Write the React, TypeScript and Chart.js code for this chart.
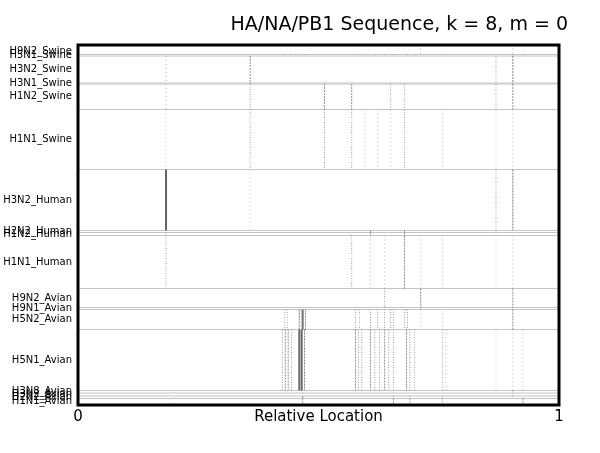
import React, { useEffect, useRef } from "react";
import { Chart, registerables } from "chart.js";

Chart.register(...registerables);

const TITLE = "HA/NA/PB1 Sequence, k = 8, m = 0";
const X_TITLE = "Relative Location";
const X_TICKS = [0, 1];
const Y_MIN = -7;

// sequence groups (top to bottom) and the number of sequences in each
const groupNames = [
  "H9N2_Swine", "H5N1_Swine", "H3N2_Swine", "H3N1_Swine", "H1N2_Swine", "H1N1_Swine",
  "H3N2_Human", "H2N2_Human", "H1N2_Human", "H1N1_Human",
  "H9N2_Avian", "H9N1_Avian", "H5N2_Avian", "H5N1_Avian",
  "H3N8_Avian", "H3N2_Avian", "H2N2_Avian", "H1N1_Avian",
];
const groupSizes = [12, 3, 54, 2, 51, 120, 122, 4, 6, 106, 38, 4, 40, 122, 5, 6, 5, 13];

// match streaks: group, relative location, density (0..1)
const streaks: [string, number, number][] = [
  ["H9N2_Swine", 0.712, 0.35], ["H9N2_Swine", 0.904, 0.35],
  ["H5N1_Swine", 0.429, 0.4], ["H5N1_Swine", 0.442, 0.4], ["H5N1_Swine", 0.46, 0.4],
  ["H5N1_Swine", 0.473, 0.4], ["H5N1_Swine", 0.577, 0.4], ["H5N1_Swine", 0.596, 0.4],
  ["H5N1_Swine", 0.617, 0.4], ["H5N1_Swine", 0.637, 0.4], ["H5N1_Swine", 0.656, 0.4],
  ["H5N1_Swine", 0.685, 0.4], ["H5N1_Swine", 0.7, 0.4], ["H5N1_Swine", 0.765, 0.4],
  ["H5N1_Swine", 0.904, 0.4], ["H5N1_Swine", 0.925, 0.4],
  ["H3N2_Swine", 0.183, 0.35], ["H3N2_Swine", 0.358, 0.6], ["H3N2_Swine", 0.869, 0.45],
  ["H3N2_Swine", 0.904, 0.7],
  ["H3N1_Swine", 0.358, 0.5], ["H3N1_Swine", 0.904, 0.5],
  ["H1N2_Swine", 0.183, 0.25], ["H1N2_Swine", 0.358, 0.5], ["H1N2_Swine", 0.5125, 0.6],
  ["H1N2_Swine", 0.569, 0.6], ["H1N2_Swine", 0.65, 0.4], ["H1N2_Swine", 0.679, 0.4],
  ["H1N2_Swine", 0.869, 0.45], ["H1N2_Swine", 0.904, 0.6],
  ["H1N1_Swine", 0.183, 0.2], ["H1N1_Swine", 0.358, 0.45], ["H1N1_Swine", 0.5125, 0.5],
  ["H1N1_Swine", 0.569, 0.5], ["H1N1_Swine", 0.596, 0.3], ["H1N1_Swine", 0.623, 0.35],
  ["H1N1_Swine", 0.65, 0.3], ["H1N1_Swine", 0.679, 0.45], ["H1N1_Swine", 0.758, 0.3],
  ["H1N1_Swine", 0.869, 0.3], ["H1N1_Swine", 0.904, 0.35],
  ["H3N2_Human", 0.183, 1.0], ["H3N2_Human", 0.358, 0.15], ["H3N2_Human", 0.869, 0.5],
  ["H3N2_Human", 0.904, 0.8],
  ["H2N2_Human", 0.608, 0.6], ["H2N2_Human", 0.679, 0.6],
  ["H1N2_Human", 0.183, 0.5], ["H1N2_Human", 0.608, 0.6], ["H1N2_Human", 0.679, 0.6],
  ["H1N1_Human", 0.183, 0.45], ["H1N1_Human", 0.569, 0.5], ["H1N1_Human", 0.608, 0.3],
  ["H1N1_Human", 0.6375, 0.35], ["H1N1_Human", 0.679, 0.7], ["H1N1_Human", 0.7125, 0.3],
  ["H1N1_Human", 0.758, 0.3], ["H1N1_Human", 0.869, 0.3], ["H1N1_Human", 0.904, 0.25],
  ["H9N2_Avian", 0.6375, 0.5], ["H9N2_Avian", 0.7125, 0.7], ["H9N2_Avian", 0.904, 0.6],
  ["H9N1_Avian", 0.7125, 0.5], ["H9N1_Avian", 0.904, 0.5],
  ["H5N2_Avian", 0.429, 0.4], ["H5N2_Avian", 0.435, 0.4], ["H5N2_Avian", 0.46, 0.8],
  ["H5N2_Avian", 0.467, 0.9], ["H5N2_Avian", 0.473, 0.6], ["H5N2_Avian", 0.577, 0.5],
  ["H5N2_Avian", 0.585, 0.4], ["H5N2_Avian", 0.608, 0.5], ["H5N2_Avian", 0.623, 0.5],
  ["H5N2_Avian", 0.6375, 0.5], ["H5N2_Avian", 0.65, 0.5], ["H5N2_Avian", 0.656, 0.4],
  ["H5N2_Avian", 0.679, 0.5], ["H5N2_Avian", 0.685, 0.5], ["H5N2_Avian", 0.7125, 0.3],
  ["H5N2_Avian", 0.758, 0.3], ["H5N2_Avian", 0.904, 0.6],
  ["H5N1_Avian", 0.425, 0.5], ["H5N1_Avian", 0.431, 0.6], ["H5N1_Avian", 0.437, 0.6],
  ["H5N1_Avian", 0.444, 0.5], ["H5N1_Avian", 0.46, 0.9], ["H5N1_Avian", 0.465, 1.0],
  ["H5N1_Avian", 0.471, 0.8], ["H5N1_Avian", 0.577, 0.6], ["H5N1_Avian", 0.583, 0.5],
  ["H5N1_Avian", 0.59, 0.5], ["H5N1_Avian", 0.608, 0.6], ["H5N1_Avian", 0.617, 0.5],
  ["H5N1_Avian", 0.627, 0.5], ["H5N1_Avian", 0.6375, 0.6], ["H5N1_Avian", 0.646, 0.5],
  ["H5N1_Avian", 0.656, 0.5], ["H5N1_Avian", 0.683, 0.6], ["H5N1_Avian", 0.69, 0.5],
  ["H5N1_Avian", 0.7, 0.4], ["H5N1_Avian", 0.758, 0.4], ["H5N1_Avian", 0.765, 0.3],
  ["H5N1_Avian", 0.869, 0.3], ["H5N1_Avian", 0.904, 0.35], ["H5N1_Avian", 0.925, 0.35],
  ["H3N8_Avian", 0.904, 0.5],
  ["H3N2_Avian", 0.904, 0.5], ["H3N2_Avian", 0.467, 0.3],
  ["H2N2_Avian", 0.467, 0.6], ["H2N2_Avian", 0.656, 0.5], ["H2N2_Avian", 0.69, 0.5],
  ["H2N2_Avian", 0.758, 0.4], ["H2N2_Avian", 0.904, 0.4],
  ["H1N1_Avian", 0.467, 0.6], ["H1N1_Avian", 0.656, 0.6], ["H1N1_Avian", 0.69, 0.6],
  ["H1N1_Avian", 0.758, 0.5], ["H1N1_Avian", 0.925, 0.6], ["H1N1_Avian", 0.19, 0.2],
];

const groupStarts: number[] = [];
groupSizes.reduce((acc, s) => {
  groupStarts.push(acc);
  return acc + s;
}, 0);
const yMax = groupSizes.reduce((a, b) => a + b, 0);
const groupCenters = groupSizes.map((s, i) => groupStarts[i] + s / 2);

function streakStyle(d: number) {
  const g = Math.round(215 - d * 115);
  const color = `rgb(${g},${g},${g})`;
  let dash: number[] = [];
  if (d < 0.85) dash = d >= 0.6 ? [2, 1] : d >= 0.4 ? [1, 1.5] : [1, 3];
  return { color, dash, width: d >= 0.85 ? 2 : 1 };
}

const framePlugin = {
  id: "frameAndTitle",
  afterDatasetsDraw(chart: any) {
    const { ctx, chartArea: a } = chart;
    ctx.save();
    ctx.strokeStyle = "#000";
    ctx.lineWidth = 3;
    ctx.strokeRect(a.left, a.top, a.right - a.left, a.bottom - a.top);
    ctx.fillStyle = "#000";
    ctx.font = '19px "DejaVu Sans"';
    ctx.textAlign = "right";
    ctx.textBaseline = "alphabetic";
    ctx.fillText(TITLE, a.right + 9, 30);
    ctx.restore();
  },
};

export default function App() {
  const ref = useRef<HTMLCanvasElement>(null);

  useEffect(() => {
    if (!ref.current) return;
    const streakSets = streaks.map(([name, x, d]) => {
      const gi = groupNames.indexOf(name);
      const st = streakStyle(d);
      return {
        data: [
          { x, y: groupStarts[gi] },
          { x, y: groupStarts[gi] + groupSizes[gi] },
        ],
        showLine: true,
        borderColor: st.color,
        borderWidth: st.width,
        borderDash: st.dash,
        pointRadius: 0,
        order: 0,
      };
    });
    const boundarySets = groupStarts.slice(1).map((b) => ({
      data: [
        { x: 0, y: b },
        { x: 1, y: b },
      ],
      showLine: true,
      borderColor: "#c4c4c4",
      borderWidth: 1,
      pointRadius: 0,
      order: 1,
    }));

    const chart = new Chart(ref.current, {
      type: "scatter",
      data: { datasets: [...streakSets, ...boundarySets] as any },
      options: {
        animation: false,
        responsive: false,
        events: [],
        layout: { padding: { top: 45, right: 41, left: 0, bottom: 0 } },
        plugins: { legend: { display: false }, tooltip: { enabled: false } },
        scales: {
          x: {
            type: "linear",
            min: 0,
            max: 1,
            grid: { display: false, drawTicks: false },
            border: { display: false },
            afterBuildTicks: (s: any) => {
              s.ticks = X_TICKS.map((v) => ({ value: v }));
            },
            afterFit: (s: any) => {
              s.height = 48;
            },
            ticks: {
              color: "#000",
              padding: 3,
              font: { family: "DejaVu Sans", size: 15 },
              maxRotation: 0,
              callback: (v: any) => String(v),
            },
            title: {
              display: true,
              text: X_TITLE,
              color: "#000",
              font: { family: "DejaVu Sans", size: 15 },
              padding: { top: 0, bottom: 27 },
            },
          },
          y: {
            type: "linear",
            min: Y_MIN,
            max: yMax,
            reverse: true,
            grid: { display: false, drawTicks: false },
            border: { display: false },
            afterBuildTicks: (s: any) => {
              s.ticks = groupCenters.map((v) => ({ value: v }));
            },
            afterFit: (s: any) => {
              s.width = 78;
            },
            ticks: {
              autoSkip: false,
              color: "#000",
              padding: 6,
              font: { family: "DejaVu Sans", size: 10 },
              callback: (_v: any, i: number) => groupNames[i],
            },
          },
        },
      },
      plugins: [framePlugin],
    });
    return () => chart.destroy();
  }, []);

  return (
    <div style={{ position: "fixed", left: 0, top: 0, width: 600, height: 453, background: "#fff" }}>
      <canvas ref={ref} width={600} height={453} style={{ display: "block" }} />
    </div>
  );
}
